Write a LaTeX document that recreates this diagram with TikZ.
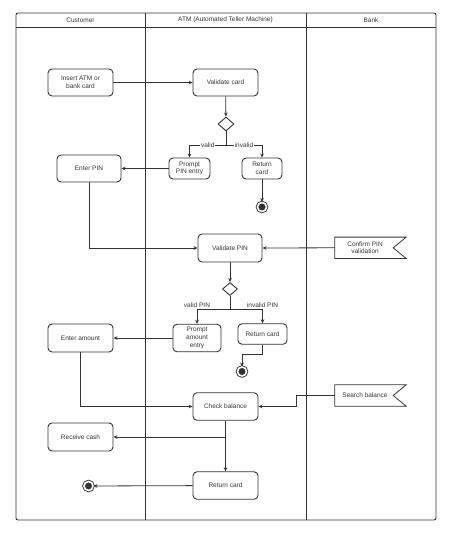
\documentclass[tikz,border=0pt]{standalone}
\usepackage{fontspec}
\setmainfont{Liberation Sans}
\usetikzlibrary{shapes.geometric,arrows.meta}
\definecolor{ln}{HTML}{333333}
\begin{document}
\begin{tikzpicture}[x=1pt,y=-1pt,
  every node/.style={font=\fontsize{6.5}{7.6}\selectfont, text=ln},
  lane/.style={draw=ln, line width=0.9pt},
  act/.style={draw=ln, rounded corners=4pt, align=center, inner sep=1pt, line width=0.9pt, fill=white},
  dec/.style={draw=ln, diamond, minimum width=16pt, minimum height=14pt, inner sep=0pt, line width=0.9pt, fill=white},
  fin/.style={circle, fill=ln, draw=ln, double=white, double distance=1.6pt, line width=0.9pt, minimum size=9pt, inner sep=0pt},
  flagbox/.style={minimum width=71pt, minimum height=21pt, inner sep=0pt},
  arr/.style={draw=ln, line width=0.8pt, -{Stealth[length=4pt,width=3.6pt]}},
  ln/.style={draw=ln, line width=0.8pt},
  lbl/.style={fill=white, inner sep=0.8pt},
  lblt/.style={above, inner sep=1.5pt}
]
\useasboundingbox (0,0) rectangle (452,534);
% swimlanes
\draw[lane, rounded corners=2pt] (16,13) rectangle (436,520);
\draw[lane] (16,27) -- (436,27);
\draw[lane] (145,13) -- (145,520);
\draw[lane] (306,13) -- (306,520);
\node (h1) at (80.5,20) {Customer};
\node (h2) at (225.5,20) {ATM (Automated Teller Machine)};
\node (h3) at (371,20) {Bank};

% activities
\node[act, minimum width=65pt, minimum height=27pt] (ins) at (80.5,82.5) {Insert ATM or\\bank card};
\node[act, minimum width=65pt, minimum height=27pt] (vc) at (225.5,82.5) {Validate card};
\node[dec] (d1) at (226,124) {};
\node[act, minimum width=41pt, minimum height=21pt] (ppin) at (189.5,168.5) {Prompt\\PIN entry};
\node[act, minimum width=40pt, minimum height=21pt] (rc1) at (262,168.5) {Return\\card};
\node[act, minimum width=64pt, minimum height=27pt] (epin) at (89,168.5) {Enter PIN};
\node[fin] (end1) at (262,207) {};
\node[act, minimum width=64pt, minimum height=28pt] (vpin) at (230,248) {Validate PIN};
\node[flagbox] (confb) at (370.5,247.8) {};
\node[align=center] (conf) at (365,247.8) {Confirm PIN\\validation};
\node[dec, minimum width=15pt, minimum height=13pt] (d2) at (230,289) {};
\node[act, minimum width=48pt, minimum height=27.5pt] (pam) at (197,338) {Prompt\\amount\\entry};
\node[act, minimum width=49pt, minimum height=20.5pt] (rc2) at (262.5,334) {Return card};
\node[act, minimum width=65pt, minimum height=28pt] (eam) at (80.5,338) {Enter amount};
\node[fin] (end2) at (242,371.5) {};
\node[act, minimum width=65pt, minimum height=27.5pt] (cb) at (225.5,406.5) {Check balance};
\node[flagbox] (sbb) at (370.5,395.5) {};
\node (sb) at (365,395.5) {Search balance};
\node[act, minimum width=65pt, minimum height=28pt] (rcash) at (80.5,437) {Receive cash};
\node[act, minimum width=65pt, minimum height=27.5pt] (rc3) at (225.5,485.5) {Return card};
\node[fin] (end3) at (88.5,486) {};

% flags
\draw[ln, line join=miter] (confb.north west) -- (confb.north east) -- ([xshift=-13pt]confb.east) -- (confb.south east) -- (confb.south west) -- cycle;
\draw[ln, line join=miter] (sbb.north west) -- (sbb.north east) -- ([xshift=-13pt]sbb.east) -- (sbb.south east) -- (sbb.south west) -- cycle;

% connectors
\draw[arr] (ins) -- (vc);
\draw[arr] (vc) -- (d1);
\coordinate (b1) at (226,145);
\draw[ln] (d1.south) -- (b1);
\draw[arr] (b1) -| node[lbl, pos=0.25] {valid} (ppin);
\draw[arr] (b1) -| node[lbl, pos=0.25] {invalid} (rc1);
\draw[arr] (ppin) -- (epin);
\draw[arr] (rc1) -- (end1);
\draw[arr] (epin.south) |- (vpin.west);
\draw[arr] (confb.west) -- (vpin.east);
\draw[arr] (vpin) -- (d2);
\coordinate (b2) at (230,309);
\draw[ln] (d2.south) -- (b2);
\draw[arr] (b2) -| node[lblt, pos=0.5] {valid PIN} (pam);
\draw[arr] (b2) -| node[lblt, pos=0.5] {invalid PIN} (rc2);
\draw[arr] (pam) -- (eam);
\draw[arr] (rc2.south) -- ++(0,10) -| (end2.north);
\draw[arr] (eam.south) |- (cb.west);
\draw[arr] (sbb.west) -- ++(-38,0) |- (cb.east);
\draw[arr] (cb) -- (rc3);
\draw[arr] (cb.south |- rcash.east) -- (rcash.east);
\draw[arr] (rc3) -- (end3);
\end{tikzpicture}
\end{document}
